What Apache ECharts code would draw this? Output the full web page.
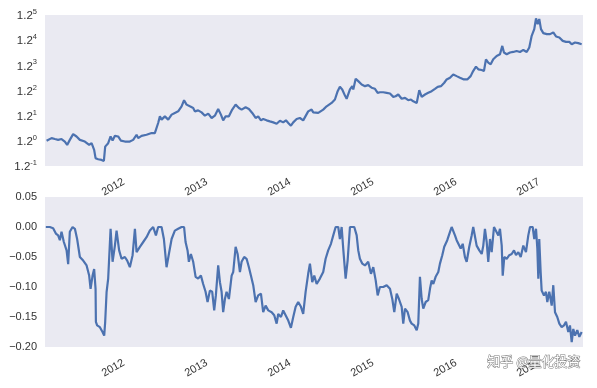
<!DOCTYPE html>
<html><head><meta charset="utf-8">
<script src="https://cdn.jsdelivr.net/npm/echarts@6/dist/echarts.min.js"></script>
<style>html,body{margin:0;padding:0;background:#fff}#c{width:597px;height:388px}</style>
</head><body><div id="c"></div>
<script>
// Cumulative value (log axis, base 1.2), decimal years
const topYears = [2011.069,2011.129,2011.169,2011.208,2011.249,2011.289,2011.317,2011.349,2011.389,2011.430,
2011.470,2011.530,2011.582,2011.611,2011.642,2011.659,2011.690,2011.731,2011.759,2011.775,
2011.811,2011.840,2011.864,2011.892,2011.931,2011.964,2012.012,2012.072,2012.112,2012.153,
2012.172,2012.213,2012.273,2012.334,2012.373,2012.413,2012.434,2012.454,2012.494,2012.534,
2012.575,2012.614,2012.654,2012.695,2012.725,2012.755,2012.795,2012.835,2012.855,2012.895,
2012.936,2012.976,2013.016,2013.057,2013.096,2013.136,2013.169,2013.196,2013.225,2013.265,
2013.305,2013.346,2013.386,2013.418,2013.466,2013.506,2013.546,2013.587,2013.618,2013.651,
2013.678,2013.719,2013.759,2013.799,2013.840,2013.880,2013.919,2013.952,2013.980,2014.012,
2014.040,2014.081,2014.120,2014.160,2014.181,2014.220,2014.261,2014.281,2014.341,2014.401,
2014.442,2014.502,2014.542,2014.575,2014.602,2014.630,2014.663,2014.683,2014.723,2014.751,
2014.763,2014.792,2014.823,2014.864,2014.904,2014.943,2014.984,2015.024,2015.057,2015.084,
2015.124,2015.165,2015.205,2015.245,2015.273,2015.305,2015.346,2015.386,2015.425,2015.458,
2015.486,2015.527,2015.558,2015.587,2015.627,2015.666,2015.707,2015.747,2015.780,2015.819,
2015.859,2015.888,2015.928,2015.967,2016.008,2016.048,2016.096,2016.136,2016.177,2016.207,
2016.241,2016.269,2016.310,2016.337,2016.361,2016.389,2016.418,2016.449,2016.490,2016.530,
2016.558,2016.578,2016.611,2016.651,2016.690,2016.731,2016.771,2016.811,2016.852,2016.883,
2016.912,2016.943,2016.964,2016.984,2017.003,2017.024,2017.052,2017.093,2017.133,2017.172,
2017.205,2017.245,2017.286,2017.325,2017.365,2017.394,2017.434,2017.473,2017.514];
const topValues = [1.000,1.020,1.013,1.007,1.013,0.995,0.971,1.007,1.050,1.032,
1.007,0.995,0.971,0.983,0.937,0.882,0.875,0.871,0.864,0.959,
0.983,1.032,1.002,1.037,1.032,1.002,0.995,0.995,1.007,1.045,
1.020,1.037,1.045,1.058,1.058,1.138,1.194,1.166,1.194,1.166,
1.209,1.224,1.238,1.284,1.342,1.300,1.284,1.269,1.238,1.247,
1.229,1.200,1.218,1.180,1.200,1.260,1.209,1.160,1.194,1.194,
1.254,1.300,1.269,1.254,1.275,1.260,1.224,1.180,1.194,1.160,
1.171,1.160,1.151,1.143,1.132,1.157,1.143,1.160,1.138,1.116,
1.143,1.171,1.180,1.160,1.151,1.238,1.254,1.229,1.224,1.254,
1.284,1.316,1.349,1.433,1.479,1.451,1.388,1.356,1.451,1.486,
1.451,1.568,1.541,1.504,1.486,1.497,1.469,1.458,1.416,1.422,
1.422,1.416,1.409,1.375,1.381,1.399,1.356,1.365,1.342,1.349,
1.332,1.316,1.443,1.375,1.399,1.416,1.433,1.458,1.479,1.486,
1.523,1.560,1.580,1.618,1.598,1.580,1.560,1.560,1.598,1.658,
1.712,1.679,1.670,1.658,1.805,1.762,1.741,1.805,1.849,1.872,
1.989,1.896,1.872,1.896,1.904,1.918,1.904,1.932,1.904,1.966,
2.140,2.247,2.429,2.330,2.417,2.247,2.182,2.166,2.166,2.193,
2.130,2.115,2.063,2.048,2.048,2.014,2.039,2.029,2.014];

// Drawdown, decimal years
const ddYears = [2011.060,2011.108,2011.148,2011.181,2011.208,2011.229,2011.249,2011.277,2011.310,2011.329,
2011.349,2011.382,2011.410,2011.437,2011.470,2011.510,2011.551,2011.582,2011.599,2011.623,
2011.642,2011.659,2011.663,2011.678,2011.711,2011.743,2011.763,2011.775,2011.792,2011.811,
2011.831,2011.840,2011.864,2011.892,2011.912,2011.943,2011.972,2012.012,2012.040,2012.072,
2012.105,2012.133,2012.153,2012.193,2012.233,2012.273,2012.313,2012.353,2012.386,2012.413,
2012.454,2012.482,2012.514,2012.546,2012.575,2012.614,2012.654,2012.695,2012.725,2012.743,
2012.767,2012.783,2012.807,2012.835,2012.864,2012.895,2012.928,2012.955,2012.984,2013.008,
2013.036,2013.064,2013.088,2013.108,2013.136,2013.157,2013.177,2013.196,2013.217,2013.237,
2013.265,2013.298,2013.317,2013.346,2013.370,2013.398,2013.418,2013.449,2013.478,2013.506,
2013.530,2013.558,2013.587,2013.618,2013.651,2013.678,2013.707,2013.739,2013.780,2013.811,
2013.840,2013.859,2013.892,2013.919,2013.948,2013.980,2014.012,2014.040,2014.069,2014.100,
2014.133,2014.160,2014.189,2014.220,2014.241,2014.269,2014.293,2014.322,2014.361,2014.401,
2014.430,2014.461,2014.494,2014.522,2014.551,2014.582,2014.602,2014.623,2014.642,2014.671,
2014.695,2014.723,2014.743,2014.775,2014.804,2014.823,2014.843,2014.871,2014.904,2014.943,
2014.976,2015.004,2015.033,2015.057,2015.084,2015.124,2015.165,2015.205,2015.233,2015.257,
2015.286,2015.313,2015.346,2015.365,2015.386,2015.418,2015.446,2015.466,2015.498,2015.527,
2015.546,2015.566,2015.587,2015.606,2015.635,2015.666,2015.687,2015.707,2015.727,2015.755,
2015.787,2015.807,2015.835,2015.859,2015.895,2015.928,2015.948,2015.967,2015.988,2016.008,
2016.028,2016.057,2016.081,2016.108,2016.129,2016.160,2016.189,2016.208,2016.229,2016.249,
2016.281,2016.310,2016.329,2016.349,2016.370,2016.389,2016.410,2016.430,2016.458,2016.482,
2016.510,2016.530,2016.551,2016.563,2016.582,2016.611,2016.642,2016.671,2016.699,2016.723,
2016.751,2016.780,2016.811,2016.843,2016.871,2016.892,2016.924,2016.943,2016.964,2016.980,
2016.992,2017.003,2017.020,2017.032,2017.060,2017.084,2017.100,2017.124,2017.153,2017.172,
2017.193,2017.220,2017.245,2017.273,2017.301,2017.325,2017.353,2017.373,2017.394,2017.413,
2017.434,2017.461,2017.486,2017.514];
const ddValues = [0,0,-0.002,-0.011,-0.014,-0.022,-0.008,-0.025,-0.039,-0.062,
-0.008,0,-0.003,-0.020,-0.050,-0.056,-0.064,-0.081,-0.103,-0.081,
-0.070,-0.103,-0.158,-0.164,-0.167,-0.175,-0.181,-0.158,-0.108,-0.086,
-0.083,-0.003,-0.058,-0.031,-0.006,-0.039,-0.053,-0.050,-0.056,-0.067,
-0.047,-0.003,-0.042,-0.033,-0.025,-0.017,-0.006,0,-0.014,0,
0,-0.020,-0.067,-0.042,-0.020,-0.006,-0.003,0,0,-0.025,
-0.039,-0.058,-0.045,-0.058,-0.083,-0.086,-0.081,-0.095,-0.108,-0.125,
-0.106,-0.108,-0.139,-0.114,-0.064,-0.092,-0.108,-0.142,-0.120,-0.108,
-0.120,-0.081,-0.075,-0.033,-0.045,-0.075,-0.058,-0.050,-0.053,-0.067,
-0.081,-0.097,-0.125,-0.114,-0.111,-0.142,-0.131,-0.139,-0.142,-0.147,
-0.161,-0.145,-0.150,-0.139,-0.147,-0.156,-0.168,-0.150,-0.133,-0.125,
-0.133,-0.145,-0.108,-0.078,-0.061,-0.092,-0.081,-0.095,-0.086,-0.075,
-0.053,-0.039,-0.028,-0.014,0,0,-0.020,0,-0.036,-0.086,
-0.056,0,0,0,-0.014,-0.039,-0.053,-0.061,-0.064,-0.058,
-0.078,-0.067,-0.089,-0.114,-0.100,-0.100,-0.097,-0.103,-0.120,-0.142,
-0.111,-0.120,-0.133,-0.161,-0.136,-0.142,-0.156,-0.161,-0.164,-0.172,
-0.161,-0.083,-0.120,-0.136,-0.125,-0.122,-0.103,-0.089,-0.095,-0.083,
-0.075,-0.061,-0.047,-0.033,-0.022,-0.008,0,0,-0.014,-0.022,
-0.020,-0.036,-0.028,-0.050,-0.058,-0.033,-0.014,0,-0.003,-0.031,
-0.039,-0.045,-0.031,-0.003,-0.025,-0.058,-0.020,-0.042,0,0,
-0.014,-0.003,-0.031,-0.081,-0.050,-0.053,-0.047,-0.045,-0.039,-0.047,
-0.042,-0.050,-0.031,-0.042,-0.014,0,0,-0.020,-0.003,-0.036,
-0.086,-0.020,-0.075,-0.106,-0.114,-0.108,-0.125,-0.108,-0.131,-0.097,
-0.142,-0.150,-0.161,-0.167,-0.164,-0.158,-0.175,-0.164,-0.192,-0.170,
-0.181,-0.172,-0.183,-0.175];

// Tick labels
const yearTicks = [2012, 2013, 2014, 2015, 2016, 2017];
const topTickExponents = [-1, 0, 1, 2, 3, 4, 5];
const ddTicks = [0.05, 0.00, -0.05, -0.10, -0.15, -0.20];
const xRange = [2011.05, 2017.53];
const watermarkText = '知乎 @量化投资';

const chart = echarts.init(document.getElementById('c'), null, {renderer: 'canvas'});
const FONT = '"Liberation Sans", Arial, sans-serif';
const LABEL = '#333333';
const BLUE = '#4C72B0';

function xAxisCfg(gi) {
  return {
    type: 'value', gridIndex: gi, min: xRange[0], max: xRange[1],
    axisLine: {show: false}, axisTick: {show: false}, splitLine: {show: false},
    axisLabel: {customValues: yearTicks, rotate: 30, margin: 15, fontSize: 11,
      color: LABEL, fontFamily: FONT, formatter: v => String(Math.round(v))}
  };
}
const base = 1.2;
const logMin = Math.pow(base, topTickExponents[0]);
const logMax = Math.pow(base, topTickExponents[topTickExponents.length - 1]);

const option = {
  animation: false,
  backgroundColor: '#ffffff',
  grid: [
    {left: 45, top: 15, width: 538, height: 151, show: true, backgroundColor: '#EAEAF2', borderWidth: 0},
    {left: 45, top: 197, width: 538, height: 150, show: true, backgroundColor: '#EAEAF2', borderWidth: 0}
  ],
  xAxis: [xAxisCfg(0), xAxisCfg(1)],
  yAxis: [
    {type: 'log', logBase: base, gridIndex: 0, min: logMin, max: logMax,
     splitNumber: topTickExponents.length - 1,
     axisLine: {show: false}, axisTick: {show: false}, splitLine: {show: false},
     axisLabel: {margin: 8,
       formatter: v => {
         const e = Math.round(Math.log(v) / Math.log(base));
         return '{b|1.2}{s|' + e + '}';
       },
       rich: {
         b: {fontSize: 11.5, color: LABEL, fontFamily: FONT, lineHeight: 14, verticalAlign: 'bottom'},
         s: {fontSize: 7.5, color: LABEL, fontFamily: FONT, verticalAlign: 'top'}
       }}},
    {type: 'value', gridIndex: 1, min: ddTicks[ddTicks.length - 1], max: ddTicks[0], interval: 0.05,
     axisLine: {show: false}, axisTick: {show: false}, splitLine: {show: false},
     axisLabel: {margin: 8, fontSize: 11, color: LABEL, fontFamily: FONT,
       formatter: v => (Math.abs(v) < 1e-9 ? '0.00' : (v < 0 ? '\u2212' : '') + Math.abs(v).toFixed(2))}}
  ],
  series: [
    {type: 'line', xAxisIndex: 0, yAxisIndex: 0, showSymbol: false, silent: true,
     data: topYears.map((y, i) => [y, topValues[i]]),
     lineStyle: {color: BLUE, width: 2.2}},
    {type: 'line', xAxisIndex: 1, yAxisIndex: 1, showSymbol: false, silent: true,
     data: ddYears.map((y, i) => [y, ddValues[i]]),
     lineStyle: {color: BLUE, width: 2.2}}
  ],
  graphic: [{
    type: 'text', right: 16, top: 354, z: 100,
    style: {text: watermarkText, font: '13px "Noto Sans CJK SC"', fill: '#ffffff', stroke: '#7a7a7a', lineWidth: 1}
  }]
};
chart.setOption(option);
</script></body></html>
